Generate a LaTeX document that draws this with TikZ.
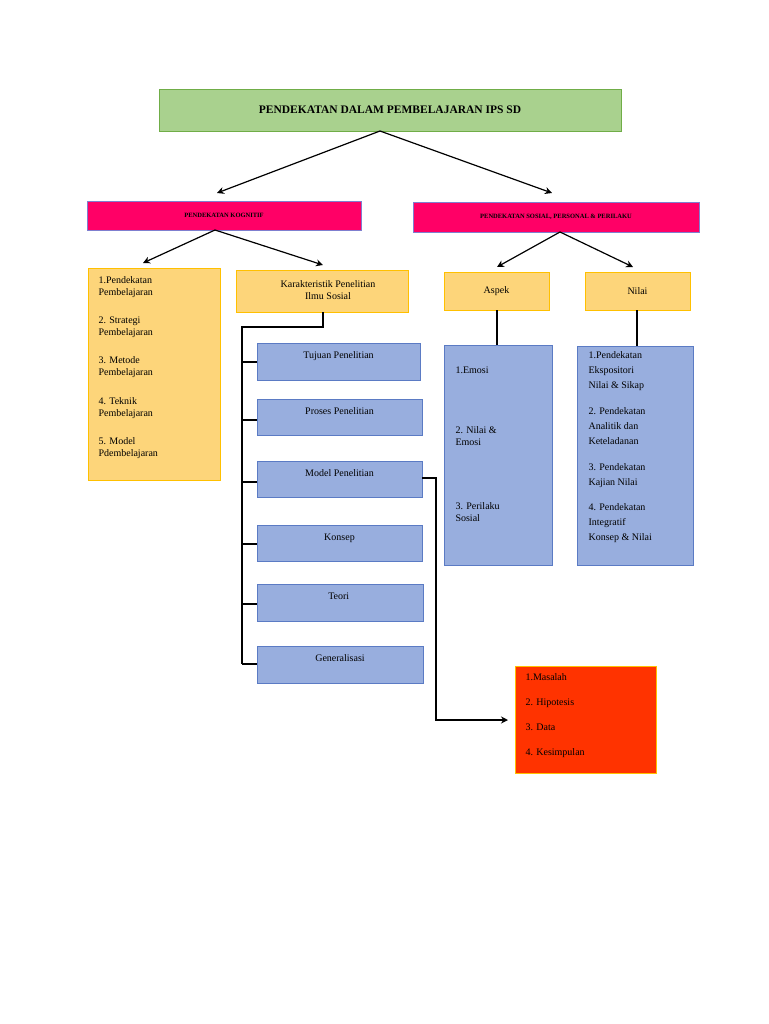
\documentclass[tikz,border=0pt]{standalone}
\usepackage{fontspec}
\setmainfont{Liberation Serif}
\usetikzlibrary{arrows.meta}
\definecolor{gr}{HTML}{A9D18E}
\definecolor{grb}{HTML}{70AD47}
\definecolor{pk}{HTML}{FF0066}
\definecolor{pkb}{HTML}{7F7FCF}
\definecolor{og}{HTML}{FDD57A}
\definecolor{ogb}{HTML}{FFC000}
\definecolor{bl}{HTML}{98AEDE}
\definecolor{blb}{HTML}{5B7BC4}
\definecolor{rd}{HTML}{FF3300}
\begin{document}
\begin{tikzpicture}[x=1pt,y=-1pt,
  box/.style={draw,line width=0.8pt,inner sep=0pt},
  title/.style={box,fill=gr,draw=grb},
  pink/.style={box,fill=pk,draw=pkb},
  org/.style={box,fill=og,draw=ogb},
  blu/.style={box,fill=bl,draw=blb},
  red/.style={box,fill=rd,draw=ogb},
  arr/.style={line width=1.2pt,-{Stealth[length=7pt,width=7pt]}},
  ln/.style={line width=1.2pt},
  t/.style={font=\fontsize{10}{12}\selectfont,align=left,anchor=north west},
  tc/.style={font=\fontsize{10}{12}\selectfont,align=center}]
\useasboundingbox[fill=white] (0,0) rectangle (768,1024);
\draw[title] (159,89) rectangle (621,131);
\node[font=\bfseries\fontsize{11.5}{13}\selectfont] (T) at (390,110) {PENDEKATAN DALAM PEMBELAJARAN IPS SD};
\draw[pink] (87,201) rectangle (361,230);
\node[font=\bfseries\fontsize{6.5}{8}\selectfont] (K) at (224,215.5) {PENDEKATAN KOGNITIF};
\draw[pink] (413,202) rectangle (699,232);
\node[font=\bfseries\fontsize{6.5}{8}\selectfont] (S) at (556,217) {PENDEKATAN SOSIAL, PERSONAL \& PERILAKU};
\coordinate (t0) at (380,131);
\coordinate (k0) at (217,193); \coordinate (s0) at (552,193);
\draw[arr] (t0) -- (k0); \draw[arr] (t0) -- (s0);
\coordinate (k1) at (215,230); \coordinate (s1) at (560,232);
\coordinate (a1) at (143,263); \coordinate (a2) at (323,265);
\coordinate (a3) at (497,267); \coordinate (a4) at (633,267);
\draw[arr] (k1) -- (a1); \draw[arr] (k1) -- (a2);
\draw[arr] (s1) -- (a3); \draw[arr] (s1) -- (a4);
% left list
\draw[org] (88,268) rectangle (220,480);
\node[t] (L1) at (95,273) {1.Pendekatan\\Pembelajaran};
\node[t] (L2) at (95,313) {2. Strategi\\Pembelajaran};
\node[t] (L3) at (95,353) {3. Metode\\Pembelajaran};
\node[t] (L4) at (95,394) {4. Teknik\\Pembelajaran};
\node[t] (L5) at (95,434) {5. Model\\Pdembelajaran};
\draw[org] (236,270) rectangle (408,312);
\node[tc] (KP) at (328,290) {Karakteristik Penelitian\\Ilmu Sosial};
\draw[org] (444,272) rectangle (549,310);
\node[tc] (AS) at (496.5,291) {Aspek};
\draw[org] (585,272) rectangle (690,310);
\node[tc] (NI) at (637.5,291) {Nilai};
% trunk
\draw[ln] (323,312) -- (323,327) -- (242,327) -- (242,664);
\foreach \ya/\yb/\xr/\yc/\txt/\n in {343/380/420/362/Tujuan Penelitian/b1,399/435/422/420/Proses Penelitian/b2,461/497/422/482/Model Penelitian/b3,525/561/422/544/Konsep/b4,584/621/423/604/Teori / Konstruk/b5,646/683/423/664/Generalisasi/b6}{
  \draw[ln] (242,\yc) -- (257,\yc);
  \draw[blu] (257,\ya) rectangle (\xr,\yb);
  \node[tc,anchor=north] (\n) at ({(257+\xr)/2},\ya+5) {\txt};
}
% aspek column
\draw[ln] (497,310) -- (497,345);
\draw[blu] (444,345) rectangle (552,565);
\node[t] (E1) at (452,363) {1.Emosi};
\node[t] (E2) at (452,423) {2. Nilai \&\\Emosi};
\node[t] (E3) at (452,499) {3. Perilaku\\Sosial};
\draw[ln] (637,310) -- (637,346);
\draw[blu] (577,346) rectangle (693,565);
\node[t,font=\fontsize{10}{15}\selectfont] (N1) at (585,348) {1.Pendekatan\\Ekspositori\\Nilai \& Sikap};
\node[t,font=\fontsize{10}{15}\selectfont] (N2) at (585,404) {2. Pendekatan\\Analitik dan\\Keteladanan};
\node[t,font=\fontsize{10}{15}\selectfont] (N3) at (585,460) {3. Pendekatan\\Kajian Nilai};
\node[t,font=\fontsize{10}{15}\selectfont] (N4) at (585,500) {4. Pendekatan\\Integratif\\Konsep \& Nilai};
% red
\draw[red] (515,666) rectangle (656,773);
\node[t] (R1) at (522,670) {1.Masalah};
\node[t] (R2) at (522,695) {2. Hipotesis};
\node[t] (R3) at (522,720) {3. Data};
\node[t] (R4) at (522,745) {4. Kesimpulan};
\coordinate (m0) at (422,478); \coordinate (m1) at (508,720);
\draw[ln,arr] (m0) -- (436,478) -- (436,720) -- (m1);
\end{tikzpicture}
\end{document}
